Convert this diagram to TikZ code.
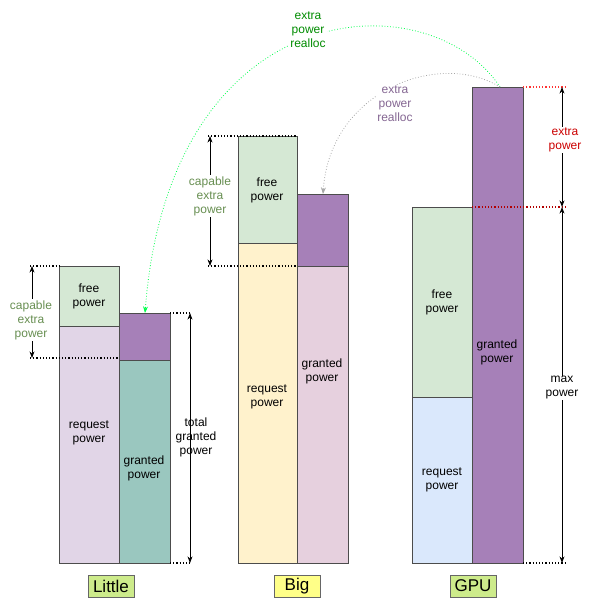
\documentclass[tikz,border=0pt]{standalone}
\usepackage{fontspec}
\setmainfont{Liberation Sans}
\usetikzlibrary{arrows.meta}
\definecolor{grn}{HTML}{D5E8D4}\definecolor{grnl}{HTML}{82B366}
\definecolor{lpur}{HTML}{E1D5E7}\definecolor{pur}{HTML}{A680B8}
\definecolor{teal}{HTML}{9AC7BF}\definecolor{yel}{HTML}{FFF2CC}
\definecolor{pink}{HTML}{E6D0DE}\definecolor{blu}{HTML}{DAE8FC}
\definecolor{lime}{HTML}{CDEB8B}\definecolor{ylab}{HTML}{FFFF88}
\begin{document}
\begin{tikzpicture}[x=1pt,y=-1pt,font=\fontsize{12}{14}\selectfont,
 bar/.style={draw=black!70,thick},
 txt/.style={align=center,inner sep=1pt},
 dot/.style={dotted,very thick},
 dim/.style={{Stealth}-{Stealth},thick},
 lbl/.style={draw=black!60,thick,minimum width=46pt,minimum height=22pt,inner sep=0pt,font=\fontsize{17}{18}\selectfont}]
\useasboundingbox (0,0) rectangle (600,610);
% Little
\fill[grn,bar] (59,266) rectangle (119,326);
\fill[lpur,bar] (59,326) rectangle (119,563);
\fill[pur,bar] (119,313) rectangle (170,360);
\fill[teal,bar] (119,360) rectangle (170,563);
\node[txt] (lf) at (89,296) {free\\power};
\node[txt] (lr) at (89,433) {request\\power};
\node[txt] (lg) at (144,468) {granted\\power};
\coordinate (ltop) at (145,313);
\draw[dot] (30,266) -- (59,266);
\draw[dot] (30,358) -- (119,358);
\draw[dim] (32,266) -- (32,358);
\node[txt,text=grnl!80!black,fill=white] (lce) at (31,320) {capable\\extra\\power};
\draw[dot] (170,313) -- (192,313);
\draw[dot] (170,563) -- (192,563);
\draw[dim] (190,313) -- (190,563);
\node[txt] (ltg) at (196,437) {total\\granted\\power};
\node[lbl,fill=lime] (little) at (111,586) {Little};
% Big
\fill[grn,bar] (238,136) rectangle (297,243);
\fill[yel,bar] (238,243) rectangle (297,563);
\fill[pur,bar] (297,194) rectangle (348,266);
\fill[pink,bar] (297,266) rectangle (348,563);
\node[txt] (bf) at (267,190) {free\\power};
\node[txt] (br) at (267,397) {request\\power};
\node[txt] (bg) at (322,371) {granted\\power};
\coordinate (btop) at (323,194);
\draw[dot] (208,136) -- (297,136);
\draw[dot] (208,266) -- (297,266);
\draw[dim] (210,136) -- (210,266);
\node[txt,text=grnl!80!black,fill=white] (bce) at (210,196) {capable\\extra\\power};
\node[lbl,fill=ylab] (big) at (297,586) {Big};
% GPU
\fill[grn,bar] (412,207) rectangle (472,397);
\fill[blu,bar] (412,397) rectangle (472,563);
\fill[pur,bar] (472,87) rectangle (523,563);
\node[txt] (gf) at (442,302) {free\\power};
\node[txt] (gr) at (442,480) {request\\power};
\node[txt] (gg) at (497,352) {granted\\power};
\coordinate (gtop) at (500,87);
\draw[dot,red!80] (523,87) -- (565,87);
\draw[dot,red!70!black] (472,207) -- (565,207);
\draw[dot] (523,563) -- (565,563);
\draw[dim] (562,87) -- (562,207);
\draw[dim] (562,207) -- (562,563);
\node[txt,text=red!80!black,fill=white] (ge) at (565,140) {extra\\power};
\node[txt,fill=white] (gm) at (562,388) {max\\power};
\node[lbl,fill=lime] (gpu) at (473,586) {GPU};
% realloc arrows
\draw[dotted,thick,green!70!cyan,-{Stealth}] (gtop) .. controls (430,-20) and (170,-10) .. (ltop);
\node[txt,text=green!55!black,fill=white] (r1) at (308,30) {extra\\power\\realloc};
\draw[dotted,thick,black!35,-{Stealth}] (gtop) .. controls (440,50) and (330,90) .. (btop);
\node[txt,text=pur!80!black,fill=white] (r2) at (395,104) {extra\\power\\realloc};
\end{tikzpicture}
\end{document}
